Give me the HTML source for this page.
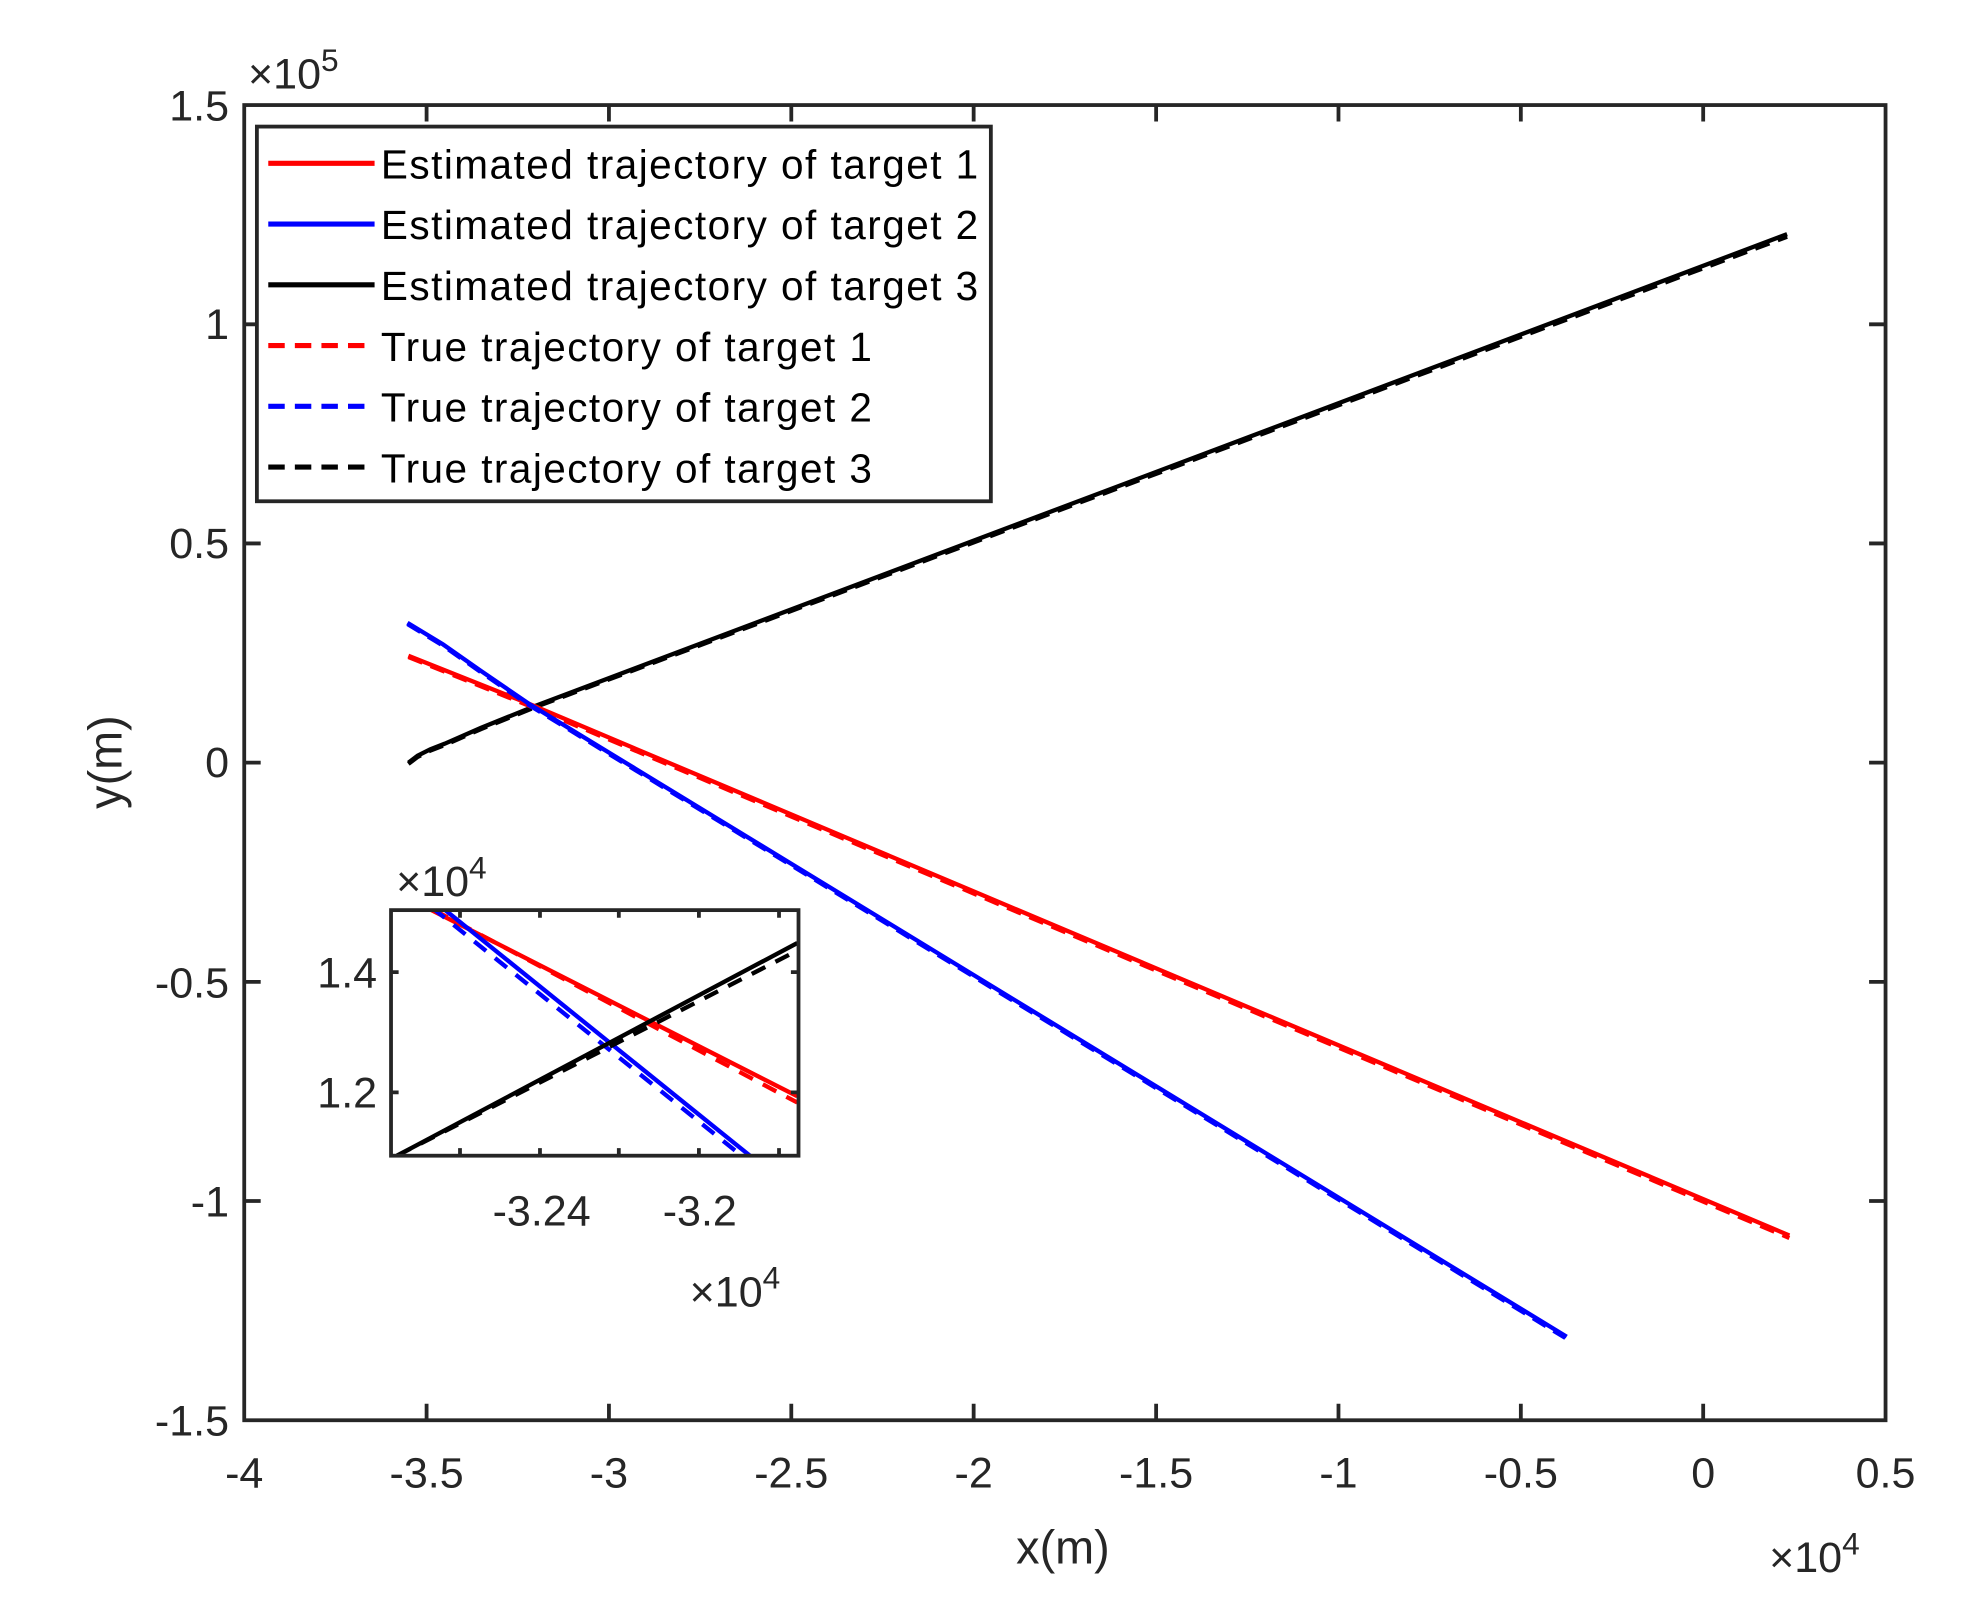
<!DOCTYPE html>
<html><head><meta charset="utf-8"><style>
html,body{margin:0;padding:0;background:#fff;}
svg{display:block;}
text{font-family:"Liberation Sans",Arial,sans-serif;fill:#262626;}
</style></head><body>
<svg width="1964" height="1600" viewBox="0 0 1552 1264" preserveAspectRatio="none" xmlns="http://www.w3.org/2000/svg">
<rect width="1552" height="1264" fill="#fff"/>
<defs>
<clipPath id="main"><rect x="193" y="83" width="1297" height="1039"/></clipPath>
<clipPath id="ins"><rect x="311" y="720" width="321" height="193"/></clipPath>
</defs>
<g clip-path="url(#main)" fill="none" stroke-width="3.4">
<path d="M322.7,602.5 L330,597 L340,592 L351.5,587.5 L380,575 L423.6,557.4 L1412.2,185" stroke="#000"/>
<path d="M322.7,603.5 L330,598 L340,593 L351.5,588.5 L380,576 L423.6,558.4 L1412.2,187" stroke="#000" stroke-dasharray="12,7"/>
<path d="M322.7,518 L418,556 L1414,976" stroke="#f00"/>
<path d="M322.7,519 L418,557.5 L1414,978" stroke="#f00" stroke-dasharray="12,7"/>
<path d="M322,492 L350,509 L380,530 L418,556 L1238,1056" stroke="#00f"/>
<path d="M322,493 L350,510 L380,531 L418,557 L1237,1057" stroke="#00f" stroke-dasharray="12,7"/>
</g>
<rect x="193" y="83" width="1297" height="1039" fill="none" stroke="#262626" stroke-width="3"/>
<g stroke="#262626" stroke-width="3">
<path d="M337.1,1122v-13M481.2,1122v-13M625.3,1122v-13M769.4,1122v-13M913.6,1122v-13M1057.7,1122v-13M1201.8,1122v-13M1345.9,1122v-13
M337.1,83v13M481.2,83v13M625.3,83v13M769.4,83v13M913.6,83v13M1057.7,83v13M1201.8,83v13M1345.9,83v13
M193,256.2h13M193,429.3h13M193,602.5h13M193,775.7h13M193,948.8h13
M1490,256.2h-13M1490,429.3h-13M1490,602.5h-13M1490,775.7h-13M1490,948.8h-13"/>
</g>
<g font-size="34" text-anchor="middle">
<text x="193" y="1175">-4</text><text x="337.1" y="1175">-3.5</text><text x="481.2" y="1175">-3</text>
<text x="625.3" y="1175">-2.5</text><text x="769.4" y="1175">-2</text><text x="913.6" y="1175">-1.5</text>
<text x="1057.7" y="1175">-1</text><text x="1201.8" y="1175">-0.5</text><text x="1345.9" y="1175">0</text>
<text x="1490" y="1175">0.5</text>
</g>
<g font-size="34" text-anchor="end">
<text x="181" y="95">1.5</text><text x="181" y="268">1</text><text x="181" y="441">0.5</text>
<text x="181" y="614">0</text><text x="181" y="788">-0.5</text><text x="181" y="961">-1</text><text x="181" y="1134">-1.5</text>
</g>
<text x="196" y="70" font-size="34">×10<tspan font-size="25" dy="-14">5</tspan></text>
<text x="1398" y="1242" font-size="34">×10<tspan font-size="25" dy="-14">4</tspan></text>
<text x="840" y="1235" font-size="37" text-anchor="middle">x(m)</text>
<text transform="translate(96,602) rotate(-90)" font-size="37" text-anchor="middle">y(m)</text>
<rect x="203" y="100" width="580" height="296" fill="#fff" stroke="#262626" stroke-width="3"/>
<g stroke-width="4">
<line x1="212" y1="129" x2="296" y2="129" stroke="#f00"/>
<line x1="212" y1="177" x2="296" y2="177" stroke="#00f"/>
<line x1="212" y1="225" x2="296" y2="225" stroke="#000"/>
<line x1="212" y1="273" x2="296" y2="273" stroke="#f00" stroke-dasharray="13,8"/>
<line x1="212" y1="321" x2="296" y2="321" stroke="#00f" stroke-dasharray="13,8"/>
<line x1="212" y1="369" x2="296" y2="369" stroke="#000" stroke-dasharray="13,8"/>
</g>
<g font-size="32" style="fill:#000">
<text x="301" y="141" textLength="472" style="fill:#000">Estimated trajectory of target 1</text>
<text x="301" y="189" textLength="472" style="fill:#000">Estimated trajectory of target 2</text>
<text x="301" y="237" textLength="472" style="fill:#000">Estimated trajectory of target 3</text>
<text x="301" y="285" textLength="388" style="fill:#000">True trajectory of target 1</text>
<text x="301" y="333" textLength="388" style="fill:#000">True trajectory of target 2</text>
<text x="301" y="381" textLength="388" style="fill:#000">True trajectory of target 3</text>
</g>
<rect x="309" y="719" width="325" height="195" fill="#fff"/>
<g clip-path="url(#ins)" fill="none" stroke-width="3.4">
<path d="M338,717.5 L630,866" stroke="#f00"/>
<path d="M343,719 L630,871" stroke="#f00" stroke-dasharray="12,9"/>
<path d="M350,717.5 L592.6,913" stroke="#00f"/>
<path d="M342,717.5 L586,913" stroke="#00f" stroke-dasharray="12,9"/>
<path d="M313.7,913 L630,745" stroke="#000"/>
<path d="M313.7,913 L630,751" stroke="#000" stroke-dasharray="12,9"/>
</g>
<rect x="309" y="719" width="322" height="194" fill="none" stroke="#262626" stroke-width="3"/>
<g stroke="#262626" stroke-width="3">
<path d="M363.5,913v-6M426.7,913v-6M489,913v-6M552.3,913v-6M615.6,913v-6
M363.5,719v6M426.7,719v6M489,719v6M552.3,719v6M615.6,719v6
M309,768h6M309,863h6M631,768h-6M631,863h-6"/>
</g>
<g font-size="34" text-anchor="middle">
<text x="428" y="968">-3.24</text><text x="553" y="968">-3.2</text>
</g>
<g font-size="34" text-anchor="end">
<text x="298" y="780">1.4</text><text x="298" y="875">1.2</text>
</g>
<text x="313" y="708" font-size="34">×10<tspan font-size="25" dy="-14">4</tspan></text>
<text x="545" y="1032" font-size="34">×10<tspan font-size="25" dy="-14">4</tspan></text>
</svg>
</body></html>
